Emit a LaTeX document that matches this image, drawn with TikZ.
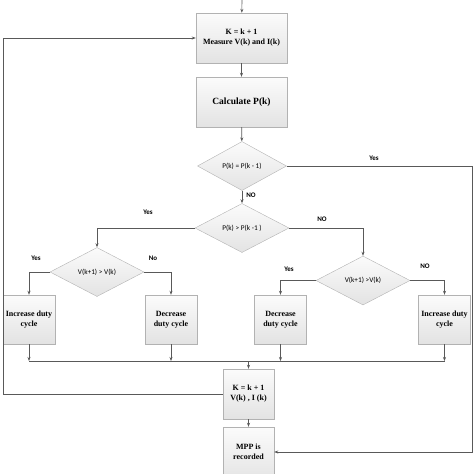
\documentclass[tikz,border=0pt]{standalone}
\usepackage{fontspec}
\setmainfont{Liberation Serif}
\newfontfamily\calib{Carlito}
\usetikzlibrary{shapes.geometric,arrows.meta}
\tikzset{
  box/.style={draw=gray!60, top color=gray!3, bottom color=gray!22, minimum width=51pt, minimum height=50pt, inner sep=1pt, align=center, font=\bfseries\fontsize{8}{10}\selectfont},
  decision/.style={diamond, draw=gray!60, top color=gray!3, bottom color=gray!22, minimum width=94pt, minimum height=49pt, inner sep=0pt, aspect=1.9, font=\calib\fontsize{7.3}{8}\selectfont},
  lbl/.style={font=\calib\bfseries\fontsize{7}{8}\selectfont},
  flow/.style={draw=gray!70!black, line width=0.6pt, -{Stealth[length=4pt,width=3pt]}},
}
\begin{document}
\begin{tikzpicture}[x=1pt,y=-1pt]
\useasboundingbox (0,0) rectangle (474,474);
\coordinate (0) at (242,0);
\node[box, minimum width=91pt] (1) at (241.5,38) {K = k + 1\\Measure V(k) and I(k)};
\node[box, minimum width=91pt, font=\bfseries\fontsize{9.5}{11}\selectfont] (2) at (241.5,102) {Calculate P(k)};
\node[decision, minimum width=89pt] (3) at (242,166) {P(k) = P(k - 1)};
\node[decision] (4) at (242,228) {P(k) > P(k -1 )};
\node[decision] (5) at (97,272) {V(k+1) > V(k)};
\node[decision] (6) at (363,280.5) {V(k+1) >V(k)};
\node[box, minimum width=52pt, minimum height=49pt] (7) at (29,319.5) {Increase duty\\cycle};
\node[box, minimum width=52pt, minimum height=49pt] (8) at (171,319.5) {Decrease\\duty cycle};
\node[box, minimum width=52pt, minimum height=49pt] (9) at (280.5,319.5) {Decrease\\duty cycle};
\node[box, minimum width=52pt, minimum height=49pt] (10) at (444.5,319.5) {Increase duty\\cycle};
\node[box] (11) at (248.5,394) {K = k + 1\\V(k) , I (k)};
\node[box, minimum height=56pt, text depth=6pt] (12) at (248.5,455) {MPP is\\recorded};

\coordinate (c) at (248.5,361);
\coordinate (lb) at (3,394);
\coordinate (lt) at (3,38);
\coordinate (r) at (472.5,0);

\node[lbl] (y1) at (374,158) {Yes};
\node[lbl] (n1) at (251,195) {NO};
\node[lbl] (y2) at (148,212) {Yes};
\node[lbl] (n2) at (322,219) {NO};
\node[lbl] (y3) at (36,258) {Yes};
\node[lbl] (n3) at (153,258) {No};
\node[lbl] (y4) at (289,269) {Yes};
\node[lbl] (n4) at (425,266) {NO};

\path[flow] (0) -- (1);
\path[flow] (1) -- (2);
\path[flow] (2) -- (3);
\path[flow] (3) -- (4);
\path[flow] (4) -| (5);
\path[flow] (4) -| (6);
\path[flow] (5) -| (7);
\path[flow] (5) -| (8);
\path[flow] (6) -| (9);
\path[flow] (6) -| (10);
\path[flow] (7) -- (7 |- c);
\path[flow] (8) -- (8 |- c);
\path[flow] (9) -- (9 |- c);
\path[flow] (10) -- (10 |- c);
\path[draw, gray!70!black, line width=0.6pt] (7 |- c) -- (10 |- c);
\path[flow] (c) -- (11);
\path[flow] (11) -- (12);
\path[flow] (11) -- (lb) -- (lt) -- (1);
\path[flow] (3.east) -- (3.east -| r) |- ([yshift=3pt]12.east);
\end{tikzpicture}
\end{document}
